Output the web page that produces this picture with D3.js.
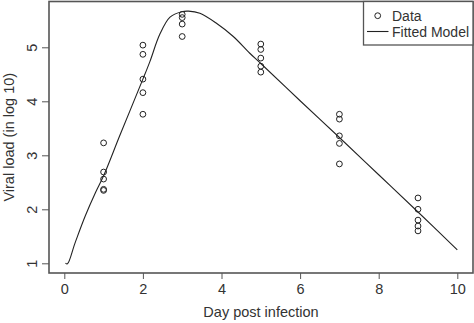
<!DOCTYPE html>
<html>
<head>
<meta charset="utf-8">
<script src="https://cdn.jsdelivr.net/npm/d3@7"></script>
<style>
  html, body { margin: 0; padding: 0; background: #fff; }
  svg { display: block; font-family: "Liberation Sans", Arial, Helvetica, sans-serif; }
</style>
</head>
<body>
<svg id="chart" width="474" height="323"></svg>
<script>
// Observed viral load per sampling day
const obsDays = [1, 1, 1, 1, 1, 2, 2, 2, 2, 2, 3, 3, 3, 3, 5, 5, 5, 5, 5, 7, 7, 7, 7, 7, 9, 9, 9, 9, 9];
const obsLoad = [3.23, 2.69, 2.56, 2.37, 2.35,
                 5.04, 4.87, 4.41, 4.16, 3.76,
                 5.61, 5.55, 5.43, 5.20,
                 5.06, 4.96, 4.80, 4.65, 4.54,
                 3.76, 3.67, 3.36, 3.22, 2.84,
                 2.21, 2.00, 1.80, 1.69, 1.60];

// Fitted model trajectory
const fitDays = [0.03, 0.08, 0.27, 0.53, 0.8, 1.0, 1.42, 2.0, 2.18, 2.43, 2.69, 2.99, 3.16, 3.45, 3.88, 4.30, 4.72, 5, 6, 7, 8, 9, 10];
const fitLoad = [1.0, 0.99, 1.37, 1.87, 2.32, 2.62, 3.38, 4.41, 4.74, 5.24, 5.56, 5.66, 5.67, 5.63, 5.44, 5.20, 4.89, 4.70, 4.01, 3.33, 2.64, 1.95, 1.25];

const xTicks = [0, 2, 4, 6, 8, 10];
const yTicks = [1, 2, 3, 4, 5];
const legendLabels = ["Data", "Fitted Model"];

const svg = d3.select("#chart");
const box = { left: 49, right: 473, top: 1.5, bottom: 273 };
const ink = "#333";
const fs = 14.5;

const x = d3.scaleLinear().domain([0, 10]).range([64.3, 457.3]);
const y = d3.scaleLinear().domain([1, 5]).range([263.3, 47.3]);

// Fitted curve
const line = d3.line()
  .x(d => x(d[0]))
  .y(d => y(d[1]))
  .curve(d3.curveCatmullRom.alpha(0.5));
svg.append("path")
  .datum(fitDays.map((d, i) => [d, fitLoad[i]]))
  .attr("d", line)
  .attr("fill", "none")
  .attr("stroke", "#222")
  .attr("stroke-width", 1.1);

// Observations as open circles
svg.append("g").selectAll("circle")
  .data(obsDays.map((d, i) => [d, obsLoad[i]]))
  .join("circle")
  .attr("cx", d => x(d[0]))
  .attr("cy", d => y(d[1]))
  .attr("r", 2.9)
  .attr("fill", "none")
  .attr("stroke", "#222")
  .attr("stroke-width", 1);

// Bottom axis
const xAxis = svg.append("g")
  .attr("transform", `translate(0,${box.bottom})`)
  .call(d3.axisBottom(x).tickValues(xTicks).tickFormat(d3.format("d")).tickSize(6).tickPadding(5));
xAxis.select(".domain").remove();
xAxis.selectAll("line").attr("stroke", "#555").attr("stroke-width", 1);
xAxis.selectAll("text").attr("font-size", fs).attr("fill", ink).attr("font-family", null);

// Left axis with rotated labels
const yAxis = svg.append("g")
  .attr("transform", `translate(${box.left},0)`)
  .call(d3.axisLeft(y).tickValues(yTicks).tickFormat(d3.format("d")).tickSize(7));
yAxis.select(".domain").remove();
yAxis.selectAll("line").attr("stroke", "#555").attr("stroke-width", 1);
yAxis.selectAll("text")
  .attr("font-size", fs).attr("fill", ink).attr("font-family", null)
  .attr("x", null).attr("dy", null)
  .attr("text-anchor", "middle")
  .attr("transform", "translate(-12,0) rotate(-90)")
  .attr("y", 0);

// Plot frame
svg.append("rect")
  .attr("x", box.left).attr("y", box.top)
  .attr("width", box.right - box.left).attr("height", box.bottom - box.top)
  .attr("fill", "none").attr("stroke", "#555").attr("stroke-width", 1.6);

// Axis titles
svg.append("text")
  .attr("x", (box.left + box.right) / 2).attr("y", 317)
  .attr("text-anchor", "middle").attr("font-size", fs).attr("fill", ink)
  .text("Day post infection");
svg.append("text")
  .attr("transform", `translate(14,${(box.top + box.bottom) / 2}) rotate(-90)`)
  .attr("text-anchor", "middle").attr("font-size", fs).attr("fill", ink)
  .text("Viral load (in log 10)");

// Legend
const lg = svg.append("g");
lg.append("rect")
  .attr("x", 363.5).attr("y", box.top).attr("width", box.right - 363.5).attr("height", 45 - box.top)
  .attr("fill", "#fff").attr("stroke", "#555").attr("stroke-width", 1.3);
lg.append("circle").attr("cx", 377.7).attr("cy", 15.7).attr("r", 2.9)
  .attr("fill", "none").attr("stroke", "#222");
lg.append("line").attr("x1", 367).attr("x2", 388.5).attr("y1", 31.5).attr("y2", 31.5)
  .attr("stroke", "#222").attr("stroke-width", 1.1);
lg.selectAll("text.lab")
  .data(legendLabels)
  .join("text")
  .attr("class", "lab")
  .attr("x", 392).attr("y", (d, i) => 20.5 + i * 16.5)
  .attr("font-size", 14).attr("fill", ink)
  .text(d => d);
</script>
</body>
</html>
